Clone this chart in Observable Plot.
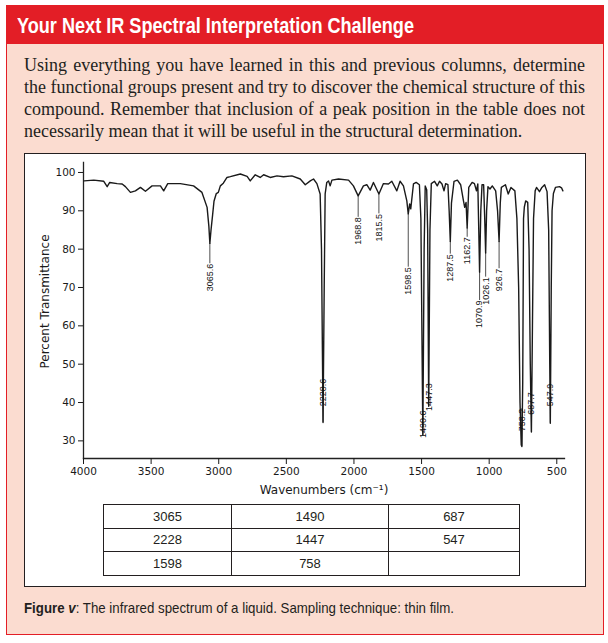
<!DOCTYPE html>
<html><head><meta charset="utf-8">
<script src="https://cdn.jsdelivr.net/npm/d3@7"></script>
<script src="https://cdn.jsdelivr.net/npm/@observablehq/plot@0.6"></script>
<style>
body{margin:0;background:#fff;}
#page{position:relative;width:608px;height:643px;overflow:hidden;}
#box{position:absolute;left:6px;top:5px;width:598px;height:630px;box-sizing:border-box;border:1.5px solid #e31e26;background:#fbdcd0;}
#hdr{position:absolute;left:6px;top:5px;width:598px;height:39px;background:#e31e26;}
#hdrtxt{position:absolute;left:17px;top:14.7px;font:bold 22px/22px "Liberation Sans Narrow","Liberation Sans",sans-serif;color:#fff;white-space:nowrap;transform-origin:0 0;}
.pl{position:absolute;left:24px;font:18px/22px "Liberation Serif",serif;color:#231f20;white-space:nowrap;}
#panel{position:absolute;left:24px;top:153px;width:562px;height:434px;box-sizing:border-box;border:1px solid #231f20;background:#fff;}
#chart{position:absolute;left:24px;top:153px;}
#tbl{position:absolute;left:103px;top:504px;border-collapse:collapse;font:13px "Liberation Sans",sans-serif;color:#231f20;}
#tbl td{border:1.6px solid #231f20;height:22.5px;padding:0;text-align:center;}
#cap{position:absolute;left:24px;top:598px;font:15px/20px "Liberation Sans Narrow","Liberation Sans",sans-serif;color:#231f20;white-space:nowrap;transform-origin:0 0;}
</style></head>
<body>
<div id="page">
  <div id="box"></div>
  <div id="hdr"></div>
  <div id="hdrtxt">Your Next IR Spectral Interpretation Challenge</div>
  <span class="pl jl" style="top:54px">Using everything you have learned in this and previous columns, determine</span>
  <span class="pl jl" style="top:76px">the functional groups present and try to discover the chemical structure of this</span>
  <span class="pl jl" style="top:98px">compound. Remember that inclusion of a peak position in the table does not</span>
  <span class="pl" style="top:120px">necessarily mean that it will be useful in the structural determination.</span>
  <div id="panel"></div>
  <div id="chart"></div>
  <table id="tbl"></table>
  <div id="cap"><b>Figure <i>v</i></b>: The infrared spectrum of a liquid. Sampling technique: thin film.</div>
</div>
<script>
// Spectrum (wavenumber, cm-1) and percent transmittance
const wavenumber = [3995,3924,3850,3825,3806,3751,3714,3690,3653,3616,3579,3542,3493,3431,3407,3377,3284,3186,3124,3086,3073,3065.6,3057,3045,3035,3018,3003,2988,2966,2939,2914,2840,2790,2767,2730,2693,2668,2619,2569,2521,2459,2397,2360,2323,2299,2274,2250,2240,2228.6,2220,2213,2201,2188,2176,2163,2114,2040,2004,1968.8,1930,1905,1880,1856,1815.5,1782,1745,1720,1683,1659,1634,1609,1598.5,1588,1580,1560,1540,1516,1505,1490.6,1481,1473,1462,1455,1447.3,1438,1428,1404,1384,1367,1349,1334,1322,1305,1296,1287.5,1279,1260,1235,1211,1190,1181,1171,1162.7,1151,1126,1109,1094,1084,1077,1070.9,1062,1053,1041,1033,1026.1,1019,1009,994,977,952,938,926.7,918,910,880,859,839,810,795,782,772,763,758.2,752,746,740,730,715,705,696,687.7,680,672,660,650,628,610,590,572,560,552,547.9,541,535,525,510,480,465,455];
const transmittance = [97.8,98.0,97.7,96.3,97.4,97.1,97.0,96.3,94.8,95.2,96.1,95.1,96.5,96.5,95.2,97.1,97.1,96.5,94.8,90.9,86.0,81.5,85.0,89.0,92.5,94.5,94.8,96.5,97.2,98.7,98.9,99.6,99.0,97.8,99.4,98.7,99.4,98.7,99.1,98.9,99.1,98.3,96.8,97.8,98.3,97.1,94.4,80.0,34.8,70.0,94.4,97.4,97.8,96.5,98.0,98.3,98.0,96.5,93.9,96.5,96.8,95.4,97.4,94.4,97.1,97.0,97.7,95.2,97.7,96.5,92.6,89.2,91.8,90.5,97.0,97.4,96.8,88.0,31.5,80.0,96.5,95.5,85.0,39.0,85.0,97.1,97.7,96.5,97.7,97.0,95.2,97.1,96.8,90.0,82.0,92.0,97.7,98.0,96.8,92.6,90.9,92.2,85.5,96.1,97.4,97.1,95.2,97.0,85.0,74.0,90.0,96.8,96.8,88.0,79.0,90.0,96.3,95.7,96.5,95.2,90.0,82.0,92.0,96.1,96.8,94.4,96.1,95.2,88.0,70.0,40.0,29.0,28.5,45.0,88.0,91.0,92.6,92.2,80.0,50.0,32.3,60.0,88.0,95.2,96.1,95.0,96.1,96.8,95.0,85.0,50.0,34.6,70.0,90.0,94.5,96.1,96.3,96.0,95.2];

// Peak annotations
const peakLabel = ["3065.6","2228.6","1968.8","1815.5","1598.5","1490.6","1447.3","1287.5","1162.7","1070.9","1026.1","926.7","758.2","687.7","547.9"];
const peakWn    = [3065.6,2228.6,1968.8,1815.5,1598.5,1490.6,1447.3,1287.5,1162.7,1070.9,1026.1,926.7,758.2,687.7,547.9];
const peakTip   = [81.5,34.8,93.9,94.4,89.2,31.5,39.0,82.0,85.5,74.0,79.0,82.0,28.5,32.3,34.6];
const labelTop  = [76.2,46.2,88.3,89.2,75.3,37.9,45.0,78.7,83.1,66.6,72.7,74.9,38.4,42.7,44.9];

// Axis ticks
const xTicks = [4000,3500,3000,2500,2000,1500,1000,500];
const yTicks = [30,40,50,60,70,80,90,100];

// Table of peak positions
const tableRows = [["3065","1490","687"],["2228","1447","547"],["1598","758",""]];
const colWidths = [127,156,130];

const spectrum = wavenumber.map((w,i)=>({w, t: transmittance[i]}));
const peaks = peakLabel.map((s,i)=>({s, w: peakWn[i], tip: peakTip[i], top: labelTop[i]}));

const chart = Plot.plot({
  width: 562, height: 345,
  marginLeft: 59, marginRight: 22, marginTop: 9, marginBottom: 40,
  x: {domain: [4000, 443]},
  y: {domain: [25.4, 102.6]},
  style: {fontFamily: "DejaVu Sans", fontSize: "10.5px", color: "#1a1a1a", background: "transparent"},
  marks: [
    Plot.frame({anchor: "left", stroke: "#222", strokeWidth: 1.3}),
    Plot.frame({anchor: "bottom", stroke: "#222", strokeWidth: 1.3}),
    Plot.axisY({ticks: yTicks, tickSize: 5, tickPadding: 3, label: null}),
    Plot.axisX({ticks: xTicks, tickSize: 6, tickPadding: 3, tickFormat: d => String(d), label: null}),
    Plot.ruleX(peaks, {x: "w", y1: "tip", y2: "top", stroke: "#222", strokeWidth: 0.8}),
    Plot.line(spectrum, {x: "w", y: "t", stroke: "#1a1a1a", strokeWidth: 1.4}),
    Plot.text(peaks, {x: "w", y: "top", text: "s", rotate: -90, textAnchor: "end", lineAnchor: "middle", fontSize: 9, fontFamily: "Liberation Sans", fill: "#111"}),
    Plot.text(["Wavenumbers (cm⁻¹)"], {frameAnchor: "bottom", text: d => d, dy: 32, lineAnchor: "middle", textAnchor: "middle", fontSize: 12}),
    Plot.text(["Percent Transmittance"], {frameAnchor: "left", text: d => d, rotate: -90, dx: -38, dy: -9, textAnchor: "middle", lineAnchor: "middle", fontSize: 12})
  ]
});
document.getElementById("chart").appendChild(chart);

// table
const tbl = document.getElementById("tbl");
tableRows.forEach(r => {
  const tr = document.createElement("tr");
  r.forEach((c, j) => {
    const td = document.createElement("td");
    td.textContent = c;
    td.style.width = colWidths[j] + "px";
    tr.appendChild(td);
  });
  tbl.appendChild(tr);
});

// text fitting
const h = document.getElementById("hdrtxt");
h.style.transform = `scaleX(${397 / h.getBoundingClientRect().width})`;
const cap = document.getElementById("cap");
cap.style.transform = `scaleX(${430 / cap.getBoundingClientRect().width})`;
document.querySelectorAll(".jl").forEach(el => {
  const w = el.getBoundingClientRect().width;
  const n = (el.textContent.match(/ /g) || []).length;
  el.style.wordSpacing = ((561 - w) / n) + "px";
});
</script>
</body></html>
